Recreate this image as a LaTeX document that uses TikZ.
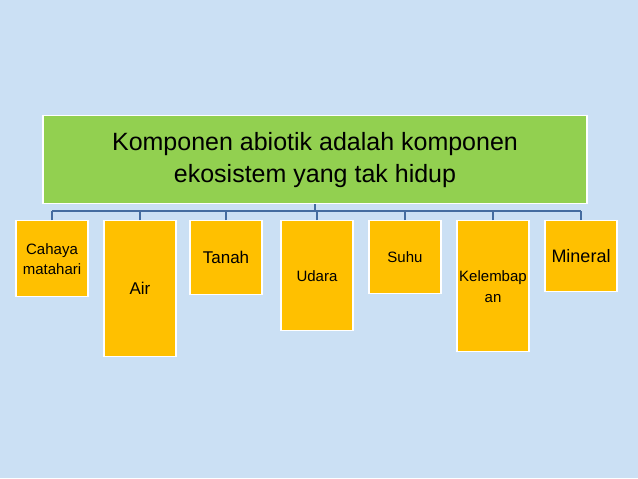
\documentclass[tikz,border=0pt]{standalone}
\usepackage{fontspec}
\setmainfont{Liberation Sans}
\definecolor{bgblue}{RGB}{203,224,244}
\definecolor{rootgreen}{RGB}{146,208,80}
\definecolor{leaforange}{RGB}{255,192,0}
\definecolor{linkblue}{RGB}{68,108,160}
\begin{document}
\begin{tikzpicture}[x=0.75pt,y=0.75pt,yscale=-1,xscale=1,
  rootbox/.style={draw=white, line width=1pt, fill=rootgreen, anchor=north, minimum width=408pt, minimum height=66pt, align=center, inner sep=0pt},
  leafbox/.style={draw=white, line width=1pt, fill=leaforange, anchor=north, minimum width=54pt, align=center, inner sep=0pt},
  link/.style={draw=linkblue, line width=1.5pt}]
%set diagram size 638 x 478
\fill [bgblue] (0,0) rectangle (638,478);

% Root Node
\node [rootbox, font=\fontsize{18.75}{24}\selectfont] (abiotik) at (315,115) {Komponen abiotik adalah komponen\\ekosistem yang tak hidup};

% Leaf Nodes
\node [leafbox, minimum height=57pt, font=\fontsize{11.25}{15}\selectfont] (cahaya) at (52,220) {Cahaya\\matahari};
\node [leafbox, minimum height=102pt, font=\fontsize{12.75}{15}\selectfont] (air) at (140,220) {Air};
\node [leafbox, minimum height=55.5pt, font=\fontsize{12.75}{15}\selectfont] (tanah) at (226,220) {Tanah};
\node [leafbox, minimum height=82.5pt, font=\fontsize{11.25}{15}\selectfont] (udara) at (317,220) {Udara};
\node [leafbox, minimum height=54.75pt, font=\fontsize{11.25}{15}\selectfont] (suhu) at (405,220) {Suhu};
\node [leafbox, minimum height=98.25pt, font=\fontsize{11.25}{15.75}\selectfont] (kelembapan) at (493,220) {Kelembap\\an};
\node [leafbox, minimum height=53.25pt, font=\fontsize{13.5}{15}\selectfont] (mineral) at (581,220) {Mineral};

% Connector Lines
\coordinate (bus) at (0,211);
\draw [link] (abiotik.south) -- (abiotik.south |- bus);
\draw [link] (cahaya.north |- bus) -- (mineral.north |- bus);
\draw [link] (cahaya.north) -- (cahaya.north |- bus);
\draw [link] (air.north) -- (air.north |- bus);
\draw [link] (tanah.north) -- (tanah.north |- bus);
\draw [link] (udara.north) -- (udara.north |- bus);
\draw [link] (suhu.north) -- (suhu.north |- bus);
\draw [link] (kelembapan.north) -- (kelembapan.north |- bus);
\draw [link] (mineral.north) -- (mineral.north |- bus);

\end{tikzpicture}
\end{document}
